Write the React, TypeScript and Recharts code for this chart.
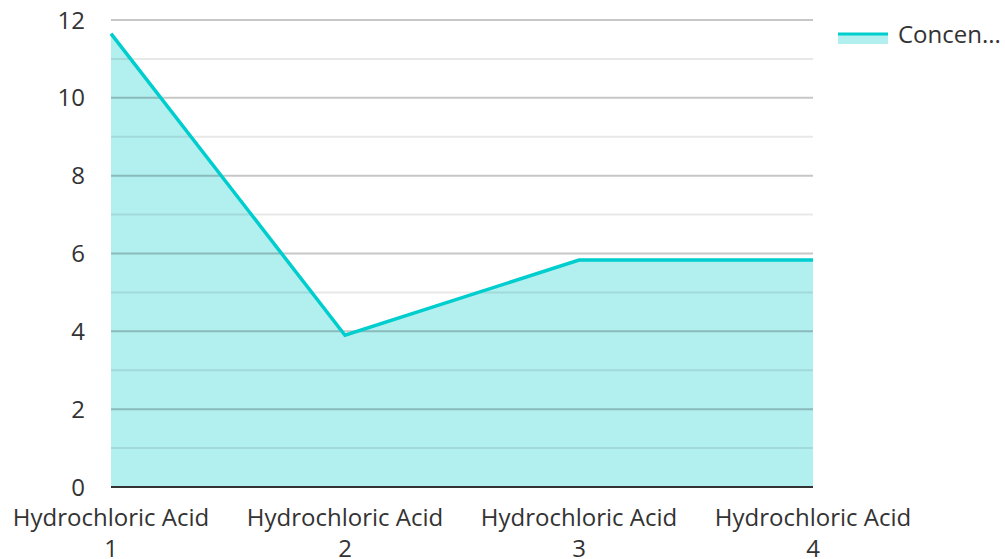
import { ComposedChart, Area, Line, XAxis, YAxis, ReferenceLine } from 'recharts'

const categories = ['Hydrochloric Acid 1', 'Hydrochloric Acid 2', 'Hydrochloric Acid 3', 'Hydrochloric Acid 4']
const concentration = [11.65, 3.9, 5.83, 5.83]
const yTicks = [0, 2, 4, 6, 8, 10, 12]
const majorGrid = [2, 4, 6, 8, 10, 12]
const minorGrid = [1, 3, 5, 7, 9, 11]
const seriesName = 'Concen...'

const data = categories.map((c, i) => ({ name: c, value: concentration[i] }))

const FONT = '"Open Sans", "Noto Sans", sans-serif'

function XTick(props: any) {
  const { x, y, payload } = props
  const label: string = payload.value
  const idx = label.lastIndexOf(' ')
  return (
    <g transform={`translate(${x},${y})`}>
      <text textAnchor="middle" fill="#333" fontSize={24} fontFamily={FONT}>
        <tspan x={0} dy={31}>{label.slice(0, idx)}</tspan>
        <tspan x={0} dy={31}>{label.slice(idx + 1)}</tspan>
      </text>
    </g>
  )
}

export default function App() {
  return (
    <div style={{ position: 'absolute', left: 0, top: 0, width: 1005, height: 559, background: '#fff' }}>
      <ComposedChart width={1005} height={559} data={data} margin={{ top: 20, right: 192, bottom: 0, left: 0 }}>
        <XAxis
          dataKey="name"
          tick={<XTick />}
          tickLine={false}
          axisLine={{ stroke: '#333', strokeWidth: 2 }}
          interval={0}
          height={72}
        />
        <YAxis
          domain={[0, 12]}
          ticks={yTicks}
          width={111}
          axisLine={false}
          tickLine={false}
          tickSize={0}
          tickMargin={26}
          tick={{ fill: '#333', fontSize: 24, fontFamily: FONT }}
        />
        <Area dataKey="value" type="linear" fill="#b2efef" fillOpacity={1} stroke="none" isAnimationActive={false} />
        {minorGrid.map((v) => (
          <ReferenceLine key={'m' + v} y={v} stroke="rgba(0,0,0,0.09)" strokeWidth={2} />
        ))}
        {majorGrid.map((v) => (
          <ReferenceLine key={'M' + v} y={v} stroke="rgba(0,0,0,0.22)" strokeWidth={2} />
        ))}
        <Line dataKey="value" type="linear" stroke="#00cdcd" strokeWidth={3.5} dot={false} isAnimationActive={false} name={seriesName} />
      </ComposedChart>
      <div style={{ position: 'absolute', left: 838, top: 16, display: 'flex', alignItems: 'center', fontFamily: FONT, fontSize: 24, color: '#333', whiteSpace: 'nowrap' }}>
        <svg width={50} height={34} style={{ marginRight: 10 }}>
          <rect x={0} y={19} width={50} height={9} fill="#b2efef" />
          <line x1={0} x2={50} y1={18} y2={18} stroke="#00cdcd" strokeWidth={3} />
        </svg>
        <span>{seriesName}</span>
      </div>
    </div>
  )
}
